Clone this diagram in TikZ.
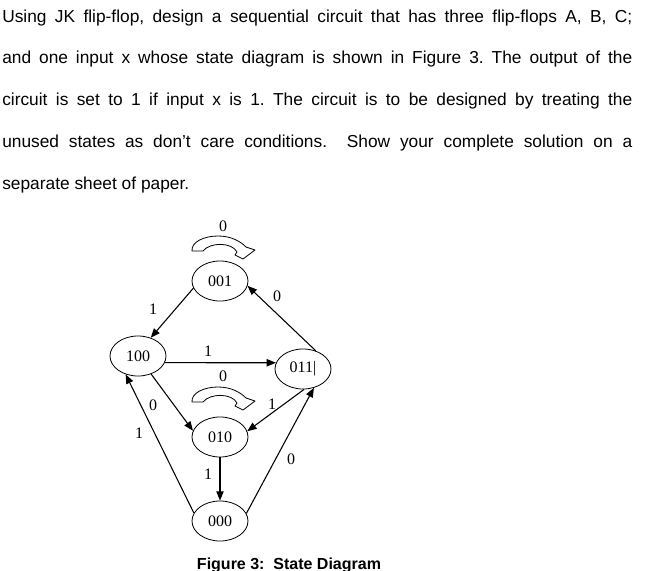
\documentclass[tikz,border=0pt]{standalone}
\usepackage{fontspec}
\setmainfont{Liberation Serif}
\newfontfamily\arialf{Liberation Sans}
\usetikzlibrary{shapes.geometric,arrows.meta}
\frenchspacing
\begin{document}
\begin{tikzpicture}[x=0.75pt,y=-0.75pt,
  state/.style={ellipse,draw,line width=0.6pt,minimum width=42pt,minimum height=30pt,inner sep=0pt,font=\fontsize{12}{14}\selectfont},
  lbl/.style={inner sep=0pt,font=\fontsize{12}{14}\selectfont},
  arr/.style={line width=0.8pt,-{Triangle[length=7pt,width=5.5pt]}},
  txt/.style={anchor=base west,inner sep=0pt,font=\arialf\fontsize{13}{15}\selectfont},
  selfloop/.pic={\draw[line width=0.6pt,line join=round] (-32,3) .. controls (-33,-6) and (-20,-12) .. (-6,-12) .. controls (8,-12) and (17,-6) .. (22,-1) -- (31,2) -- (19,11) -- (11,7) -- (13,4) .. controls (8,-6) and (-14,-6) .. (-21,3) -- cycle;}]
\useasboundingbox (0,0) rectangle (658,571);

% problem text
\node[txt] (t1) at (2,22) {\makebox[472.5pt][s]{Using JK flip-flop, design a sequential circuit that has three flip-flops A, B, C;}};
\node[txt] (t2) at (2,64) {\makebox[472.5pt][s]{and one input x whose state diagram is shown in Figure 3. The output of the}};
\node[txt] (t3) at (2,105) {\makebox[472.5pt][s]{circuit is set to 1 if input x is 1. The circuit is to be designed by treating the}};
\node[txt] (t4) at (2,147) {\makebox[472.5pt][s]{unused states as don’t care conditions.\ \ Show your complete solution on a}};
\node[txt] (t5) at (2,189) {separate sheet of paper.};

% self loops
\pic at (224,248) {selfloop};
\pic at (224,399) {selfloop};

% states
\node[state] (s001) at (220,281) {001};
\node[state] (s100) at (138,356) {100};
\node[state] (s011) at (303,369) {011|};
\node[state] (s010) at (220,437) {010};
\node[state] (s000) at (220,521) {000};

% transitions
\draw[arr] (s001.195) -- (s100.55);
\draw[arr] (s011.55) -- (s001.-10);
\draw[arr] (s100.-14) -- (s011.167);
\draw[arr] (s100.-54) -- (s010.167);
\draw[arr] (s011.-87) -- (s010.12);
\draw[arr] (s010.south) -- (s000.north);
\draw[arr] (s000.163) -- (s100.236);
\draw[arr] (s000.16) -- (s011.-60);

% labels
\node[lbl] (l1) at (223,226) {0};
\node[lbl] (l2) at (153,309) {1};
\node[lbl] (l3) at (277,296) {0};
\node[lbl] (l4) at (208,351) {1};
\node[lbl] (l5) at (223,376) {0};
\node[lbl] (l6) at (153,405) {0};
\node[lbl] (l7) at (272,404) {1};
\node[lbl] (l8) at (139,433) {1};
\node[lbl] (l9) at (208,474) {1};
\node[lbl] (l10) at (291,459) {0};

% caption
\node[anchor=base,inner sep=0pt,font=\arialf\bfseries\fontsize{12}{14}\selectfont] (cap) at (289,569) {Figure 3:\ \ State Diagram};
\end{tikzpicture}
\end{document}
